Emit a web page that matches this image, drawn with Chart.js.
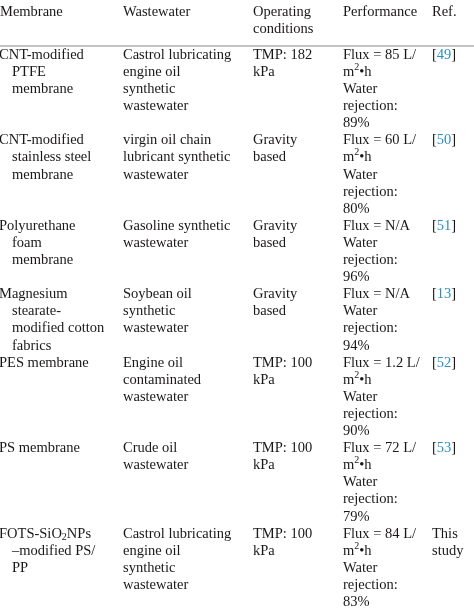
<!DOCTYPE html>
<html>
<head>
<meta charset="utf-8">
<script src="https://cdn.jsdelivr.net/npm/chart.js@4"></script>
<style>
  html, body { margin: 0; padding: 0; background: #fff; }
  canvas { display: block; }
</style>
</head>
<body>
<canvas id="chart" width="474" height="611"></canvas>
<script>
// table contents, one array per column; '_x' = subscript, '^x' = superscript
const headers = [['Membrane'], ['Wastewater'], ['Operating', 'conditions'], ['Performance'], ['Ref.']];
const membranes = [
  ['CNT-modified', 'PTFE', 'membrane'],
  ['CNT-modified', 'stainless steel', 'membrane'],
  ['Polyurethane', 'foam', 'membrane'],
  ['Magnesium', 'stearate-', 'modified cotton', 'fabrics'],
  ['PES membrane'],
  ['PS membrane'],
  ['FOTS-SiO_2NPs', '\u2013modified PS/', 'PP']
];
const wastewaters = [
  ['Castrol lubricating', 'engine oil', 'synthetic', 'wastewater'],
  ['virgin oil chain', 'lubricant synthetic', 'wastewater'],
  ['Gasoline synthetic', 'wastewater'],
  ['Soybean oil', 'synthetic', 'wastewater'],
  ['Engine oil', 'contaminated', 'wastewater'],
  ['Crude oil', 'wastewater'],
  ['Castrol lubricating', 'engine oil', 'synthetic', 'wastewater']
];
const conditions = [
  ['TMP: 182', 'kPa'],
  ['Gravity', 'based'],
  ['Gravity', 'based'],
  ['Gravity', 'based'],
  ['TMP: 100', 'kPa'],
  ['TMP: 100', 'kPa'],
  ['TMP: 100', 'kPa']
];
const performance = [
  ['Flux = 85 L/', 'm^2\u2022h', 'Water', 'rejection:', '89%'],
  ['Flux = 60 L/', 'm^2\u2022h', 'Water', 'rejection:', '80%'],
  ['Flux = N/A', 'Water', 'rejection:', '96%'],
  ['Flux = N/A', 'Water', 'rejection:', '94%'],
  ['Flux = 1.2 L/', 'm^2\u2022h', 'Water', 'rejection:', '90%'],
  ['Flux = 72 L/', 'm^2\u2022h', 'Water', 'rejection:', '79%'],
  ['Flux = 84 L/', 'm^2\u2022h', 'Water', 'rejection:', '83%']
];
const refs = ['49', '50', '51', '13', '52', '53', null];

const colX = [0, 123, 253, 343, 432];
const lineH = 17.1;
const font = '14.5px "Liberation Serif", "DejaVu Serif", serif';
const smallFont = '10px "Liberation Serif", "DejaVu Serif", serif';
const ink = '#1a1718';

function drawRich(ctx, text, x, y) {
  let i = 0;
  while (i < text.length) {
    const c = text[i];
    if ((c === '_' || c === '^') && i + 1 < text.length) {
      ctx.font = smallFont;
      ctx.fillText(text[i + 1], x, y + (c === '_' ? 4 : -5));
      x += ctx.measureText(text[i + 1]).width;
      i += 2;
    } else {
      let j = i;
      while (j < text.length && text[j] !== '_' && text[j] !== '^') j++;
      const part = text.slice(i, j);
      ctx.font = font;
      ctx.fillText(part, x, y);
      x += ctx.measureText(part).width;
      i = j;
    }
  }
}

const tablePlugin = {
  id: 'table',
  afterDraw(chart) {
    const ctx = chart.ctx;
    ctx.save();
    ctx.fillStyle = '#fff';
    ctx.fillRect(0, 0, chart.width, chart.height);
    ctx.textBaseline = 'middle';
    ctx.fillStyle = ink;

    headers.forEach((h, c) => h.forEach((t, k) => drawRich(ctx, t, colX[c], 12 + k * lineH)));

    ctx.strokeStyle = '#8a8a8a';
    ctx.lineWidth = 1.2;
    ctx.beginPath();
    ctx.moveTo(0, 46);
    ctx.lineTo(chart.width, 46);
    ctx.stroke();

    let y = 55;
    membranes.forEach((m, r) => {
      m.forEach((t, k) => drawRich(ctx, t, colX[0] + (k ? 12 : -1), y + k * lineH));
      wastewaters[r].forEach((t, k) => drawRich(ctx, t, colX[1], y + k * lineH));
      conditions[r].forEach((t, k) => drawRich(ctx, t, colX[2], y + k * lineH));
      performance[r].forEach((t, k) => drawRich(ctx, t, colX[3], y + k * lineH));
      ctx.font = font;
      if (refs[r]) {
        let x = colX[4];
        ctx.fillStyle = ink;
        ctx.fillText('[', x, y);
        x += ctx.measureText('[').width;
        ctx.fillStyle = '#2b8fc4';
        ctx.fillText(refs[r], x, y);
        x += ctx.measureText(refs[r]).width;
        ctx.fillStyle = ink;
        ctx.fillText(']', x, y);
      } else {
        ctx.fillText('This', colX[4], y);
        ctx.fillText('study', colX[4], y + lineH);
      }
      const n = Math.max(m.length, wastewaters[r].length, conditions[r].length, performance[r].length);
      y += n * lineH;
    });
    ctx.restore();
  }
};

new Chart(document.getElementById('chart').getContext('2d'), {
  type: 'bar',
  data: { labels: membranes.map(m => m.join(' ')), datasets: [] },
  options: {
    responsive: false,
    animation: false,
    plugins: { legend: { display: false }, tooltip: { enabled: false } },
    scales: { x: { display: false }, y: { display: false } }
  },
  plugins: [tablePlugin]
});
</script>
</body>
</html>
